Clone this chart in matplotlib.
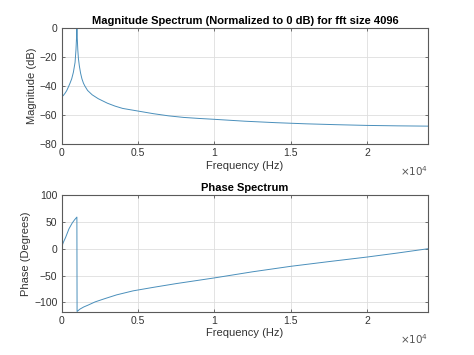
import matplotlib.pyplot as plt
from matplotlib.ticker import FuncFormatter

# magnitude spectrum, values (Hz, dB)
mag_freq = [0, 110, 220, 330, 440, 550, 660, 770, 880, 940, 975, 1000, 1025, 1060,
            1100, 1160, 1240, 1330, 1430, 1525, 1700, 2000, 2400, 3000, 3500, 4000,
            5000, 6000, 7000, 8000, 9000, 10000, 12000, 14000, 16000, 18000, 20000,
            22000, 24000]
mag_db = [-47.4, -46.5, -45, -43.2, -40.7, -38, -35, -30.5, -23.7, -15, -7, 0, -7,
          -15, -21, -26, -31, -35, -38, -40, -43, -46, -48.7, -51.8, -53.8, -55.4,
          -57.2, -59, -60.5, -61.6, -62.3, -62.9, -64.2, -65.2, -66, -66.6, -67.1,
          -67.4, -67.6]

# phase spectrum (Hz, degrees)
ph_freq = [0, 100, 260, 480, 690, 850, 1000, 1012, 1200, 1450, 1740, 2200, 2830,
           3600, 4680, 6000, 7500, 10000, 12500, 15000, 17500, 20000, 22000, 24000]
ph_deg = [2.5, 11, 21, 37, 47.7, 54, 59, -117, -112.5, -108.5, -105, -99, -93,
          -86, -78.5, -72, -65, -54.4, -43, -32.8, -24, -15.5, -8, 0]

xticks = [0, 5000, 10000, 15000, 20000]

plt.rcParams['font.family'] = ['Liberation Sans', 'DejaVu Sans']
line_col = '#4a8fbb'
axis_col = '#5a5a5a'
fs = 8

fig = plt.figure(figsize=(4.74, 3.55), dpi=100)
ax1 = fig.add_axes([0.130, 0.594, 0.773, 0.327])
ax2 = fig.add_axes([0.130, 0.1225, 0.773, 0.328])


def style(ax):
    ax.set_xlim(0, 24000)
    ax.set_xticks(xticks)
    ax.xaxis.set_major_formatter(FuncFormatter(lambda v, p: '%g' % (v / 1e4)))
    ax.grid(True, color='#dedede', linewidth=0.6)
    ax.set_axisbelow(True)
    for s in ax.spines.values():
        s.set_color(axis_col)
        s.set_linewidth(0.8)
    ax.tick_params(direction='in', length=2.5, width=0.6, colors=axis_col,
                   labelsize=7.5, labelcolor='#333333', top=True, right=True, pad=3)
    ax.set_xlabel('Frequency (Hz)', fontsize=fs, color='#333333', labelpad=2)
    ax.text(1.0, -0.235, r'$\times10^{4}$', transform=ax.transAxes, ha='right',
            va='center', fontsize=7.5, color='#555555')


ax1.plot(mag_freq, mag_db, color=line_col, linewidth=0.7)
style(ax1)
ax1.set_ylim(-80, 0)
ax1.set_yticks([-80, -60, -40, -20, 0])
ax1.set_ylabel('Magnitude (dB)', fontsize=fs, color='#333333')
ax1.yaxis.set_label_coords(-0.066, 0.5)
ax1.set_title('Magnitude Spectrum (Normalized to 0 dB) for fft size 4096',
              fontsize=fs, fontweight='bold', pad=3)

ax2.plot(ph_freq, ph_deg, color=line_col, linewidth=0.7)
style(ax2)
ax2.set_ylim(-117, 100)
ax2.set_yticks([-100, -50, 0, 50, 100])
ax2.set_ylabel('Phase (Degrees)', fontsize=fs, color='#333333')
ax2.yaxis.set_label_coords(-0.084, 0.5)
ax2.set_title('Phase Spectrum', fontsize=fs, fontweight='bold', pad=3)

fig.savefig('out.png', dpi=100)
